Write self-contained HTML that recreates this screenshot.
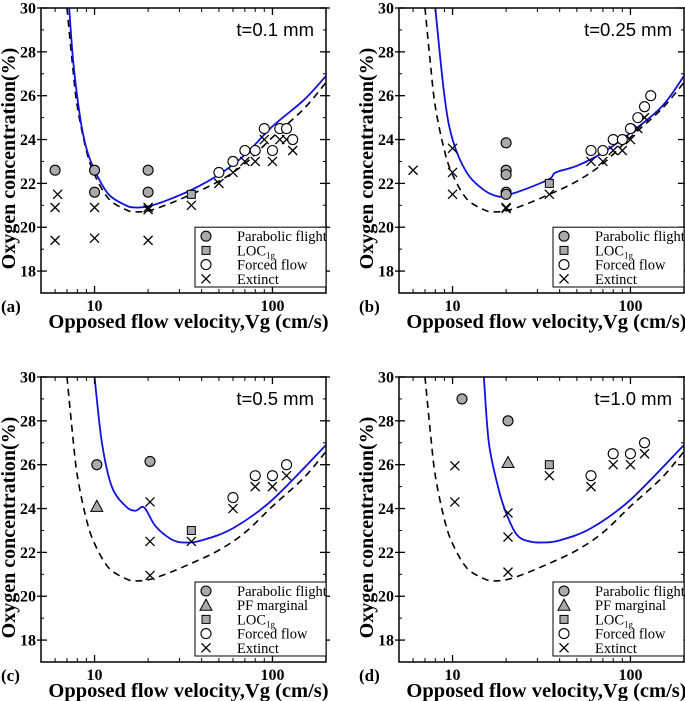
<!DOCTYPE html>
<html><head><meta charset="utf-8">
<style>
html,body{margin:0;padding:0;background:#fff;}
svg{display:block;}
</style></head>
<body>
<svg id="fig" width="685" height="701" viewBox="0 0 685 701" xmlns="http://www.w3.org/2000/svg"></svg>
<script>
// ---- shared data ----
const dashX = [7,7.5,8,9,10,12,15,17,20,25,35,50,70,100,150,200];
const dashY = [30,27.5,25.5,23.5,22.4,21.3,20.8,20.7,20.75,21,21.5,22.1,22.9,24.1,25.4,26.6];

// Panel a
const aBlueX = [7.2,7.6,8.3,9,10,12,15,17,20,25,35,50,70,100,150,200];
const aBlueY = [30,27.5,25,23.6,22.6,21.5,21,20.9,20.95,21.2,21.7,22.4,23.3,24.6,25.8,26.9];
const aPFX = [6,10,10,20,20];
const aPFY = [22.6,22.6,21.6,22.6,21.6];
const aLocX = [35];
const aLocY = [21.5];
const aFFX = [50,60,70,80,90,100,110,120,130];
const aFFY = [22.5,23,23.5,23.5,24.5,23.5,24.5,24.5,24];
const aExX = [6.2,6,6,10,10,20,20,20,35,50,60,70,80,90,100,110,120,130];
const aExY = [21.5,20.9,19.4,20.9,19.5,20.9,20.8,19.4,21,22,22.5,23,23,24,23,24,24,23.5];

// Panel b
const bBlueX = [8,9,10,12,15,18,20,25,35,38,50,70,100,150,200];
const bBlueY = [30,26,24,22.5,21.7,21.4,21.45,21.7,22.2,22.5,22.8,23.4,24.3,25.5,26.9];
const bPFX = [20,20,20,20,20];
const bPFY = [23.85,22.6,22.4,21.6,21.5];
const bLocX = [35];
const bLocY = [22];
const bFFX = [60,70,80,90,100,110,120,130];
const bFFY = [23.5,23.5,24,24,24.5,25,25.5,26];
const bExX = [6,10,10,10,20,20,35,60,70,80,90,100,110,120];
const bExY = [22.6,23.6,22.5,21.5,20.9,20.85,21.5,23,23,23.5,23.5,24,24.5,25];

// Panel c
const cBlueX = [10,11,12.5,15,17,19,22,27,32,40,60,100,200];
const cBlueY = [30,27,25,24.1,23.9,24.05,23.2,22.6,22.45,22.55,23.1,24.4,26.9];
const cPFX = [10.3,20.5];
const cPFY = [26,26.15];
const cMargX = [10.3];
const cMargY = [24.1];
const cLocX = [35];
const cLocY = [23];
const cFFX = [60,80,100,120];
const cFFY = [24.5,25.5,25.5,26];
const cExX = [20.5,20.5,20.5,35,60,80,100,120];
const cExY = [24.3,22.5,20.95,22.5,24,25,25,25.5];

// Panel d
const dBlueX = [15,16,18,20,23,27,32,40,60,100,200];
const dBlueY = [30,27,25,23.8,22.8,22.5,22.45,22.55,23.1,24.4,26.9];
const dPFX = [11.3,20.5];
const dPFY = [29,28];
const dMargX = [20.5];
const dMargY = [26.1];
const dLocX = [35];
const dLocY = [26];
const dFFX = [60,80,100,120];
const dFFY = [25.5,26.5,26.5,27];
const dExX = [10.3,10.3,20.5,20.5,20.5,35,60,80,100,120];
const dExY = [25.95,24.3,23.8,22.7,21.1,25.5,25,26,26,26.5];

const yTicks = [18,20,22,24,26,28,30];
const xMajor = [10,100];
const xMinor = [6,7,8,9,20,30,40,50,60,70,80,90,200];

const NS = "http://www.w3.org/2000/svg";
const svg = document.getElementById('fig');
function mk(tag, attrs, parent){
  const e = document.createElementNS(NS, tag);
  for (const k in attrs) e.setAttribute(k, attrs[k]);
  (parent||svg).appendChild(e);
  return e;
}
const SERIF = '"Liberation Serif", serif';
const SANS = '"Liberation Sans", sans-serif';

function panel(cfg){
  const L=cfg.left, T=cfg.top, W=285, H=285;
  const sx = v => L + W*(Math.log10(v)-Math.log10(5))/(Math.log10(200)-Math.log10(5));
  const sy = v => T + H*(30-v)/13;
  const g = mk('g',{});
  
  
  const cid = 'clip'+cfg.id;
  const cp = mk('clipPath',{id:cid}, g);
  mk('rect',{x:L,y:T,width:W,height:H}, cp);

  function curve(xs, ys, attrs, name){
    const pts = xs.map((x,i)=>[sx(x), sy(ys[i])]);
    let d = 'M'+pts[0][0]+','+pts[0][1];
    for (let i=0;i<pts.length-1;i++){
      const p0=pts[Math.max(0,i-1)], p1=pts[i], p2=pts[i+1], p3=pts[Math.min(pts.length-1,i+2)];
      const c1=[p1[0]+(p2[0]-p0[0])/6, p1[1]+(p2[1]-p0[1])/6];
      const c2=[p2[0]-(p3[0]-p1[0])/6, p2[1]-(p3[1]-p1[1])/6];
      d += ' C'+c1[0]+','+c1[1]+' '+c2[0]+','+c2[1]+' '+p2[0]+','+p2[1];
    }
    const p = mk('path', Object.assign({d:d, fill:'none', 'clip-path':'url(#'+cid+')'}, attrs), g);
    
    
  }
  curve(dashX, dashY, {stroke:'#000','stroke-width':1.6,'stroke-dasharray':'7,5'}, 'loc-1g-curve');
  curve(cfg.blueX, cfg.blueY, {stroke:'#1010e0','stroke-width':1.8}, 'model-curve');

  function circ(x,y,fill,name,parent){
    const e = mk('circle',{cx:x,cy:y,r:5,fill:fill,stroke:'#000','stroke-width':1.1}, parent||g);
    
    
  }
  function sq(x,y,name,parent){
    const e = mk('rect',{x:x-4,y:y-4,width:8,height:8,fill:'#aaa',stroke:'#000','stroke-width':1}, parent||g);
    
    
  }
  function tri(x,y,name,parent){
    const e = mk('polygon',{points:(x-6)+','+(y+5)+' '+(x+6)+','+(y+5)+' '+x+','+(y-6),fill:'#aaa',stroke:'#000','stroke-width':1}, parent||g);
    
    
  }
  function cross(x,y,name,parent){
    const e = mk('path',{d:'M'+(x-4.5)+','+(y-4.5)+'L'+(x+4.5)+','+(y+4.5)+'M'+(x-4.5)+','+(y+4.5)+'L'+(x+4.5)+','+(y-4.5),stroke:'#000','stroke-width':1.3,fill:'none'}, parent||g);
    
    
  }
  cfg.exX.forEach((x,i)=>cross(sx(x), sy(cfg.exY[i]), 'extinct-point'));
  cfg.ffX.forEach((x,i)=>circ(sx(x), sy(cfg.ffY[i]), '#fff', 'forced-flow-point'));
  cfg.locX.forEach((x,i)=>sq(sx(x), sy(cfg.locY[i]), 'loc-1g-point'));
  if (cfg.margX) cfg.margX.forEach((x,i)=>tri(sx(x), sy(cfg.margY[i]), 'pf-marginal-point'));
  cfg.pfX.forEach((x,i)=>circ(sx(x), sy(cfg.pfY[i]), '#aaa', 'parabolic-flight-point'));

  const fr = mk('rect',{x:L,y:T,width:W,height:H,fill:'none',stroke:'#000','stroke-width':1.5}, g);
  
  

  yTicks.forEach(v=>{
    const y = sy(v);
    mk('line',{x1:L-4,x2:L+6,y1:y,y2:y,stroke:'#000','stroke-width':1.3}, g);
    mk('line',{x1:L+W-6,x2:L+W+4,y1:y,y2:y,stroke:'#000','stroke-width':1.3}, g);
    const t = mk('text',{x:L-5,y:y+5.5,'text-anchor':'end','font-family':SERIF,'font-weight':'bold','font-size':16}, g);
    t.textContent = v;
    
    
  });
  [19,21,23,25,27,29].forEach(v=>{
    const y = sy(v);
    mk('line',{x1:L,x2:L+3,y1:y,y2:y,stroke:'#000','stroke-width':1}, g);
    mk('line',{x1:L+W-3,x2:L+W,y1:y,y2:y,stroke:'#000','stroke-width':1}, g);
  });
  xMajor.forEach(v=>{
    const x = sx(v);
    mk('line',{x1:x,x2:x,y1:T+H,y2:T+H-7,stroke:'#000','stroke-width':1.3}, g);
    mk('line',{x1:x,x2:x,y1:T,y2:T+7,stroke:'#000','stroke-width':1.3}, g);
    const t = mk('text',{x:x,y:T+H+18,'text-anchor':'middle','font-family':SERIF,'font-weight':'bold','font-size':16}, g);
    t.textContent = v;
    
    
  });
  xMinor.forEach(v=>{
    const x = sx(v);
    mk('line',{x1:x,x2:x,y1:T+H,y2:T+H-4,stroke:'#000','stroke-width':1}, g);
    mk('line',{x1:x,x2:x,y1:T,y2:T+4,stroke:'#000','stroke-width':1}, g);
  });

  const yt = mk('text',{x:0,y:0,'text-anchor':'middle','font-family':SERIF,'font-weight':'bold','font-size':20,transform:'translate('+(L-26)+','+(T+H/2+8)+') rotate(-90)'}, g);
  yt.textContent = 'Oxygen concentration(%)';
  
  
  const xt = mk('text',{x:L+W/2+5,y:T+H+35,'text-anchor':'middle','font-family':SERIF,'font-weight':'bold','font-size':20.5}, g);
  xt.textContent = 'Opposed flow velocity,Vg (cm/s)';
  
  
  const pl = mk('text',{x:L-40,y:T+H+19,'font-family':SERIF,'font-weight':'bold','font-size':17}, g);
  pl.textContent = '('+cfg.id+')';
  
  
  const tl = mk('text',{x:L+W-12,y:T+28,'text-anchor':'end','font-family':SANS,'font-size':18.5}, g);
  tl.textContent = cfg.title;
  
  

  const items = cfg.margX ?
    [['c','Parabolic flight'],['t','PF marginal'],['s','LOC'],['o','Forced flow'],['x','Extinct']] :
    [['c','Parabolic flight'],['s','LOC'],['o','Forced flow'],['x','Extinct']];
  const lh = 14.2, lw = 131;
  const lx = L+W-lw, ly = T+H-9-items.length*lh;
  const lg = mk('g',{}, g);
  
  
  mk('rect',{x:lx,y:ly,width:lw,height:items.length*lh+3,fill:'#fff',stroke:'#000','stroke-width':1}, lg);
  items.forEach((it,i)=>{
    const cy = ly+9+i*lh;
    const mx = lx+11;
    if (it[0]==='c') circ(mx,cy,'#aaa','legend-marker',lg);
    if (it[0]==='o') circ(mx,cy,'#fff','legend-marker',lg);
    if (it[0]==='s') sq(mx,cy,'legend-marker',lg);
    if (it[0]==='t') tri(mx,cy,'legend-marker',lg);
    if (it[0]==='x') cross(mx,cy,'legend-marker',lg);
    const t = mk('text',{x:lx+42,y:cy+5,'font-family':SERIF,'font-size':14.5}, lg);
    
    
    if (it[0]==='s'){
      t.textContent = 'LOC';
      const s = mk('tspan',{'font-size':9,dy:3}, t);
      s.textContent = '1g';
    } else t.textContent = it[1];
  });
}

panel({id:'a',left:41,top:8,title:'t=0.1 mm',blueX:aBlueX,blueY:aBlueY,pfX:aPFX,pfY:aPFY,locX:aLocX,locY:aLocY,ffX:aFFX,ffY:aFFY,exX:aExX,exY:aExY});
panel({id:'b',left:399,top:8,title:'t=0.25 mm',blueX:bBlueX,blueY:bBlueY,pfX:bPFX,pfY:bPFY,locX:bLocX,locY:bLocY,ffX:bFFX,ffY:bFFY,exX:bExX,exY:bExY});
panel({id:'c',left:41,top:377,title:'t=0.5 mm',blueX:cBlueX,blueY:cBlueY,pfX:cPFX,pfY:cPFY,margX:cMargX,margY:cMargY,locX:cLocX,locY:cLocY,ffX:cFFX,ffY:cFFY,exX:cExX,exY:cExY});
panel({id:'d',left:399,top:377,title:'t=1.0 mm',blueX:dBlueX,blueY:dBlueY,pfX:dPFX,pfY:dPFY,margX:dMargX,margY:dMargY,locX:dLocX,locY:dLocY,ffX:dFFX,ffY:dFFY,exX:dExX,exY:dExY});
</script>
</body></html>
